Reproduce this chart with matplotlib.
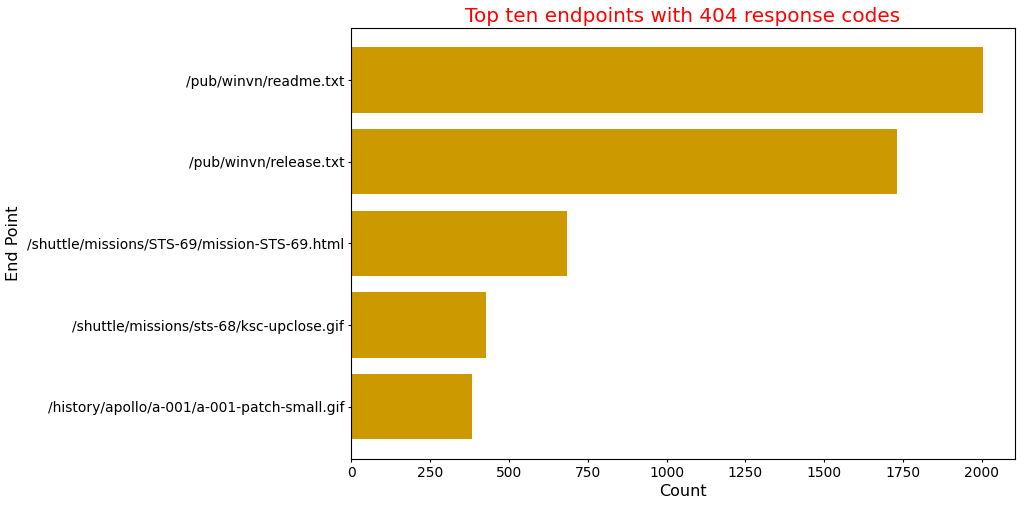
import matplotlib
matplotlib.use("Agg")
import matplotlib.pyplot as plt

# top 404 endpoints (largest first)
endpoints = [
    "/pub/winvn/readme.txt",
    "/pub/winvn/release.txt",
    "/shuttle/missions/STS-69/mission-STS-69.html",
    "/shuttle/missions/sts-68/ksc-upclose.gif",
    "/history/apollo/a-001/a-001-patch-small.gif",
]
counts = [2004, 1732, 683, 428, 384]

fig, ax = plt.subplots(figsize=(10.24, 5.05), dpi=100)
fig.subplots_adjust(left=0.343, right=0.991, top=0.945, bottom=0.091)

ax.barh(endpoints[::-1], counts[::-1], color="#cc9900")
ax.set_title("Top ten endpoints with 404 response codes", color="red", fontsize=14.4, pad=4)
ax.set_xlabel("Count", fontsize=11.5, labelpad=3)
ax.set_ylabel("End Point", fontsize=11.5)
ax.tick_params(labelsize=10, length=2.5, pad=2.5)

fig.savefig("out.png", dpi=100)
